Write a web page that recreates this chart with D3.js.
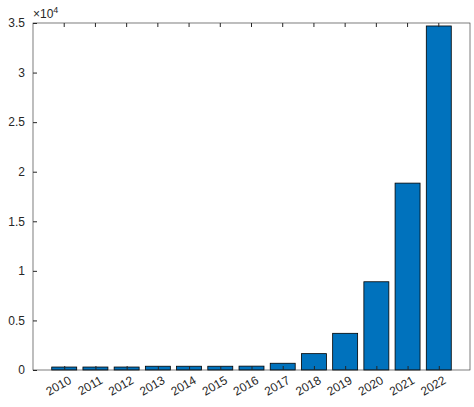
<!DOCTYPE html>
<html><head><meta charset="utf-8">
<script src="https://cdn.jsdelivr.net/npm/d3@7"></script>
<style>body{margin:0;background:#fff}text{font-family:"Liberation Sans",Arial,sans-serif;fill:#262626}</style>
</head><body><svg></svg>
<script>
const years = [2010, 2011, 2012, 2013, 2014, 2015, 2016, 2017, 2018, 2019, 2020, 2021, 2022];
const counts = [300, 300, 300, 380, 380, 380, 390, 680, 1650, 3700, 8900, 18850, 34700];
const yTicks = [0, 0.5, 1, 1.5, 2, 2.5, 3, 3.5];

const width = 474, height = 407;
const m = {left: 33, right: 4, top: 23, bottom: 37};
const svg = d3.select("svg").attr("width", width).attr("height", height);

const x = d3.scaleLinear().domain([2009, 2023]).range([m.left, width - m.right]);
const y = d3.scaleLinear().domain([0, 35000]).range([height - m.bottom, m.top]);
const bw = x(2010.4) - x(2009.6);

svg.selectAll("rect.bar")
  .data(years)
  .enter()
  .append("rect")
  .attr("class", "bar")
  .attr("x", d => x(d) - bw / 2)
  .attr("width", bw)
  .attr("y", (d, i) => y(counts[i]))
  .attr("height", (d, i) => y(0) - y(counts[i]))
  .attr("fill", "#0072BD")
  .attr("stroke", "#000")
  .attr("stroke-width", 0.8);

// box
svg.append("rect")
  .attr("x", m.left).attr("y", m.top)
  .attr("width", width - m.left - m.right).attr("height", height - m.top - m.bottom)
  .attr("fill", "none").attr("stroke", "#262626").attr("stroke-width", 0.6);

const yAxis = svg.append("g")
  .attr("transform", `translate(${m.left},0)`)
  .call(d3.axisLeft(y).tickValues(yTicks.map(v => v * 1e4)).tickSize(-4).tickPadding(8)
    .tickFormat(d => d3.format("")(d / 1e4)));
yAxis.select(".domain").remove();
yAxis.selectAll("text").style("font-size", "12px");
yAxis.selectAll("line").attr("stroke", "#262626");

const xAxis = svg.append("g")
  .attr("transform", `translate(0,${height - m.bottom})`)
  .call(d3.axisBottom(x).tickValues(years).tickSize(-4).tickFormat(d3.format("d")));
xAxis.select(".domain").remove();
xAxis.selectAll("line").attr("stroke", "#262626");
xAxis.selectAll("text")
  .style("font-size", "12px")
  .attr("text-anchor", "end")
  .attr("dy", null)
  .attr("transform", "translate(6,10) rotate(-30)");

// top ticks
svg.append("g").selectAll("line").data(years).enter().append("line")
  .attr("x1", d => x(d)).attr("x2", d => x(d))
  .attr("y1", m.top).attr("y2", m.top + 4).attr("stroke", "#262626");

const ex = svg.append("text").attr("x", m.left).attr("y", m.top - 5).style("font-size", "12px");
ex.append("tspan").text("\u00d710");
ex.append("tspan").attr("dy", -5).style("font-size", "9px").text("4");
</script></body></html>
